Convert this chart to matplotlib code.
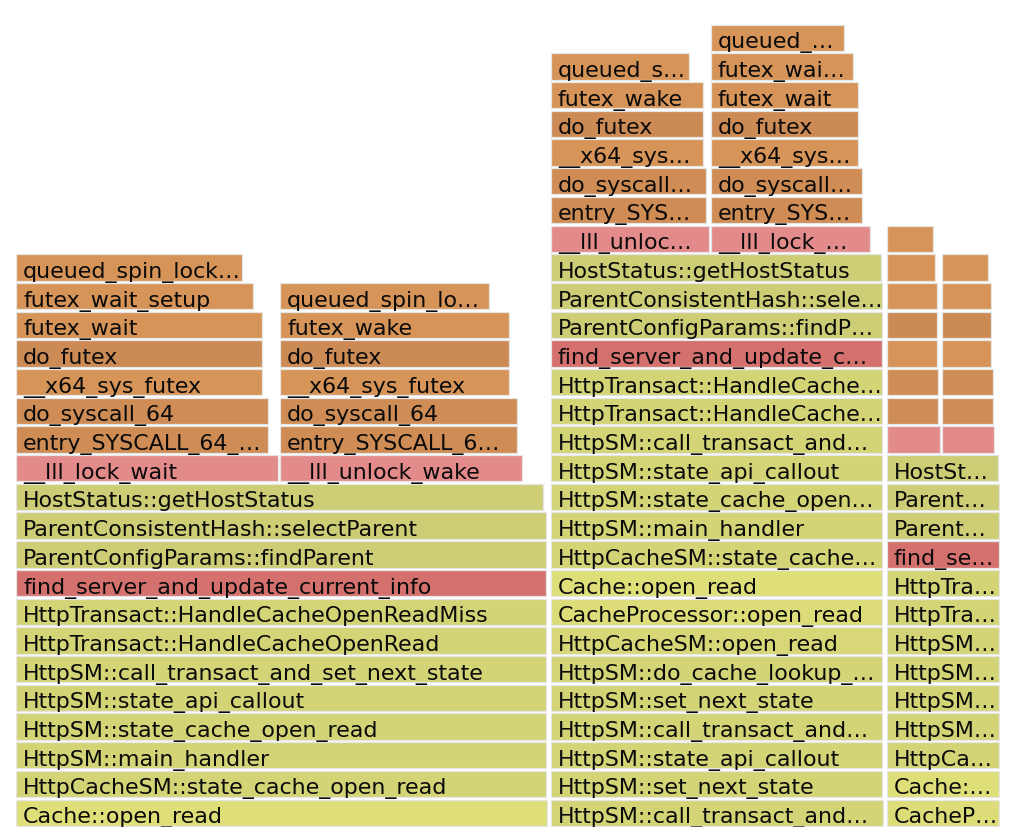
import matplotlib
matplotlib.use("Agg")
import matplotlib.pyplot as plt
import matplotlib.patches as mpatches

# flame graph data: each column = trunk (bottom-up) + branches stacked on its top box
left_trunk = ["Cache::open_read", "HttpCacheSM::state_cache_open_read", "HttpSM::main_handler",
              "HttpSM::state_cache_open_read", "HttpSM::state_api_callout",
              "HttpSM::call_transact_and_set_next_state", "HttpTransact::HandleCacheOpenRead",
              "HttpTransact::HandleCacheOpenReadMiss", "find_server_and_update_current_info",
              "ParentConfigParams::findParent", "ParentConsistentHash::selectParent",
              "HostStatus::getHostStatus"]
left_trunk_w = [533, 532.5, 532.5, 532.5, 532.5, 532.5, 532.5, 532.5, 532.5, 532.5, 532.5, 529]
left_lock = ["__lll_lock_wait", "entry_SYSCALL_64_…", "do_syscall_64", "__x64_sys_futex",
             "do_futex", "futex_wait", "futex_wait_setup", "queued_spin_lock…"]
left_lock_w = [264, 254.6, 254.6, 248.5, 248.5, 248.5, 239.6, 228]
left_unlock = ["__lll_unlock_wake", "entry_SYSCALL_6…", "do_syscall_64", "__x64_sys_futex",
               "do_futex", "futex_wake", "queued_spin_lo…"]
left_unlock_w = [244, 239, 239, 231, 231, 231, 211]

mid_trunk = ["HttpSM::call_transact_and…", "HttpSM::set_next_state", "HttpSM::state_api_callout",
             "HttpSM::call_transact_and…", "HttpSM::set_next_state", "HttpSM::do_cache_lookup_…",
             "HttpCacheSM::open_read", "CacheProcessor::open_read", "Cache::open_read",
             "HttpCacheSM::state_cache…", "HttpSM::main_handler", "HttpSM::state_cache_open…",
             "HttpSM::state_api_callout", "HttpSM::call_transact_and…", "HttpTransact::HandleCache…",
             "HttpTransact::HandleCache…", "find_server_and_update_c…", "ParentConfigParams::findP…",
             "ParentConsistentHash::sele…", "HostStatus::getHostStatus"]
mid_trunk_w = [334] + [333.3] * 18 + [332]
mid_unlock = ["__lll_unloc…", "entry_SYS…", "do_syscall…", "__x64_sys…", "do_futex",
              "futex_wake", "queued_s…"]
mid_unlock_w = [160, 157, 157, 153.7, 153.7, 153.7, 140]
mid_lock = ["__lll_lock_…", "entry_SYS…", "do_syscall…", "__x64_sys…", "do_futex",
            "futex_wait", "futex_wai…", "queued_…"]
mid_lock_w = [161, 152.7, 152.7, 149, 149, 149, 143.7, 135]

right_trunk = ["CacheP…", "Cache:…", "HttpCa…", "HttpSM…", "HttpSM…", "HttpSM…", "HttpSM…",
               "HttpTra…", "HttpTra…", "find_se…", "Parent…", "Parent…", "HostSt…"]
right_trunk_w = [113.7] * 12 + [112.7]
right_lock = ["__lll_lock_wait", "entry_SYSCALL_64_after_hwframe", "do_syscall_64",
              "__x64_sys_futex", "do_futex", "futex_wait", "futex_wait_setup",
              "queued_spin_lock_slowpath"]
right_lock_w = [55, 53.3, 53.3, 51.7, 51.7, 51.7, 50, 48]
right_unlock = ["__lll_unlock_wake", "entry_SYSCALL_64_after_hwframe", "do_syscall_64",
                "__x64_sys_futex", "do_futex", "futex_wake", "queued_spin_lock_slowpath"]
right_unlock_w = [53.7, 52.7, 52.7, 51, 51, 51, 47.7]

columns = [
    (left_trunk, left_trunk_w, [(left_lock, left_lock_w), (left_unlock, left_unlock_w)]),
    (mid_trunk, mid_trunk_w, [(mid_unlock, mid_unlock_w), (mid_lock, mid_lock_w)]),
    (right_trunk, right_trunk_w, [(right_lock, right_lock_w), (right_unlock, right_unlock_w)]),
]

ROW_H = 28.7
X0 = 16
COL_SPACE = 2
MIN_LABEL_W = 60


def box_color(name):
    if name.startswith("__lll"):
        return "#e38b8a"
    if name.startswith("do_futex"):
        return "#cc8a54"
    if name.startswith(("do_syscall", "entry_SYS")):
        return "#cf8c55"
    if name.startswith(("queued", "futex", "__x64")):
        return "#d69458"
    if name.startswith("find_"):
        return "#d4716e"
    if name.startswith(("HostSt", "Parent")):
        return "#cdcd75"
    if name.startswith("Cache:"):
        return "#dfdf7a"
    if name.startswith("CacheP"):
        return "#dcdc79"
    if name.startswith("HttpCacheSM::open"):
        return "#d7d778"
    return "#d3d476"


fig = plt.figure(figsize=(10.10, 8.28), dpi=100)
ax = fig.add_axes([0, 0, 1, 1])
ax.set_xlim(0, 1010)
ax.set_ylim(0, 828 / ROW_H)
ax.axis("off")

pad_y = 1.2 / ROW_H


def draw_box(x, depth, w, name):
    rect = mpatches.Rectangle((x, depth + pad_y), w - 2.2, 1 - 2 * pad_y,
                              facecolor=box_color(name), edgecolor="#e6e6e6", linewidth=0.9)
    ax.add_patch(rect)
    if w >= MIN_LABEL_W:
        t = ax.text(x + 7, depth + 4.8 / ROW_H, name, fontsize=15.9, color="#0a0a0a",
                    family="DejaVu Sans", va="baseline", ha="left")
        t.set_clip_path(rect)


x = X0
for trunk, trunk_w, branches in columns:
    for d, (name, w) in enumerate(zip(trunk, trunk_w)):
        draw_box(x, d, w, name)
    bx = x
    for names, widths in branches:
        for d, (name, w) in enumerate(zip(names, widths)):
            draw_box(bx, len(trunk) + d, w, name)
        bx += widths[0]
    x += trunk_w[0] + COL_SPACE

fig.savefig("out.png", dpi=100, facecolor="white")
